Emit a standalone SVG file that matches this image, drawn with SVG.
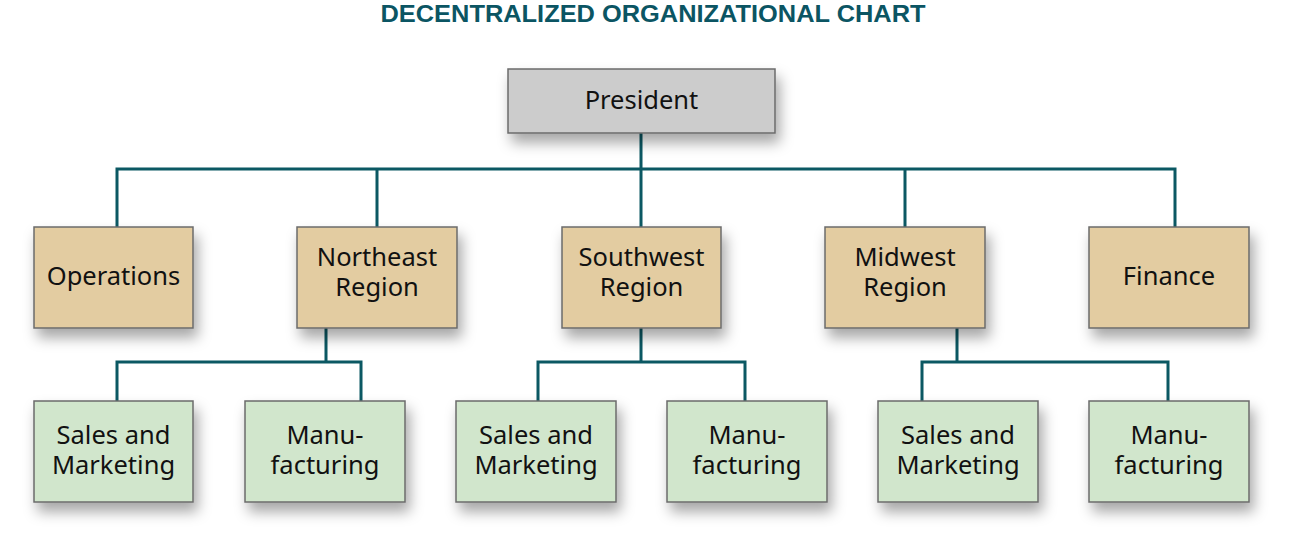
<svg xmlns="http://www.w3.org/2000/svg" width="1300" height="553" viewBox="0 0 1300 553">
<defs>
<filter id="sh" x="-20%" y="-20%" width="150%" height="170%">
<feDropShadow dx="4" dy="9" stdDeviation="7" flood-color="#000" flood-opacity="0.35"/>
</filter>
<style>
.box{stroke:#6b6b6b;stroke-width:1.5;filter:url(#sh)}
.pres{fill:#cccccc}
.mid{fill:#e3cca1}
.low{fill:#d1e6cc}
.t{font-family:"Noto Sans","Open Sans","DejaVu Sans",sans-serif;font-size:25.5px;fill:#111;text-anchor:middle}
.title{font-family:"Liberation Sans",Arial,sans-serif;font-weight:bold;font-size:24px;fill:#0b5563;text-anchor:middle}
.c{fill:none;stroke:#0b5863;stroke-width:3}
</style>
</defs>
<rect width="1300" height="553" fill="#fff"/>
<text class="title" x="653" y="22" textLength="545" lengthAdjust="spacingAndGlyphs">DECENTRALIZED ORGANIZATIONAL CHART</text>
<g id="connectors">
<path class="c" d="M641,133 V227 M117,227 V169 H1175 V227 M377,169 V227 M905,169 V227"/>
<path class="c" d="M326,328 V362 M117,401 V362 H361 V401"/>
<path class="c" d="M641,328 V362 M538,401 V362 H745 V401"/>
<path class="c" d="M957,328 V362 M922,401 V362 H1168 V401"/>
</g>
<g id="president"><rect class="box pres" x="508" y="69" width="267" height="64"/><text class="t" x="641.5" y="109">President</text></g>
<g id="operations"><rect class="box mid" x="34" y="227" width="159" height="101"/><text class="t" x="113.5" y="285">Operations</text></g>
<g id="northeast"><rect class="box mid" x="297" y="227" width="160" height="101"/><text class="t" x="377" y="266">Northeast</text><text class="t" x="377" y="296">Region</text></g>
<g id="southwest"><rect class="box mid" x="562" y="227" width="159" height="101"/><text class="t" x="641.5" y="266">Southwest</text><text class="t" x="641.5" y="296">Region</text></g>
<g id="midwest"><rect class="box mid" x="825" y="227" width="160" height="101"/><text class="t" x="905" y="266">Midwest</text><text class="t" x="905" y="296">Region</text></g>
<g id="finance"><rect class="box mid" x="1089" y="227" width="160" height="101"/><text class="t" x="1169" y="285">Finance</text></g>
<g id="ne-sales"><rect class="box low" x="34" y="401" width="159" height="101"/><text class="t" x="113.5" y="444">Sales and</text><text class="t" x="113.5" y="474">Marketing</text></g>
<g id="ne-manu"><rect class="box low" x="245" y="401" width="160" height="101"/><text class="t" x="325" y="444">Manu-</text><text class="t" x="325" y="474">facturing</text></g>
<g id="sw-sales"><rect class="box low" x="456" y="401" width="160" height="101"/><text class="t" x="536" y="444">Sales and</text><text class="t" x="536" y="474">Marketing</text></g>
<g id="sw-manu"><rect class="box low" x="667" y="401" width="160" height="101"/><text class="t" x="747" y="444">Manu-</text><text class="t" x="747" y="474">facturing</text></g>
<g id="mw-sales"><rect class="box low" x="878" y="401" width="160" height="101"/><text class="t" x="958" y="444">Sales and</text><text class="t" x="958" y="474">Marketing</text></g>
<g id="mw-manu"><rect class="box low" x="1089" y="401" width="160" height="101"/><text class="t" x="1169" y="444">Manu-</text><text class="t" x="1169" y="474">facturing</text></g>
</svg>
